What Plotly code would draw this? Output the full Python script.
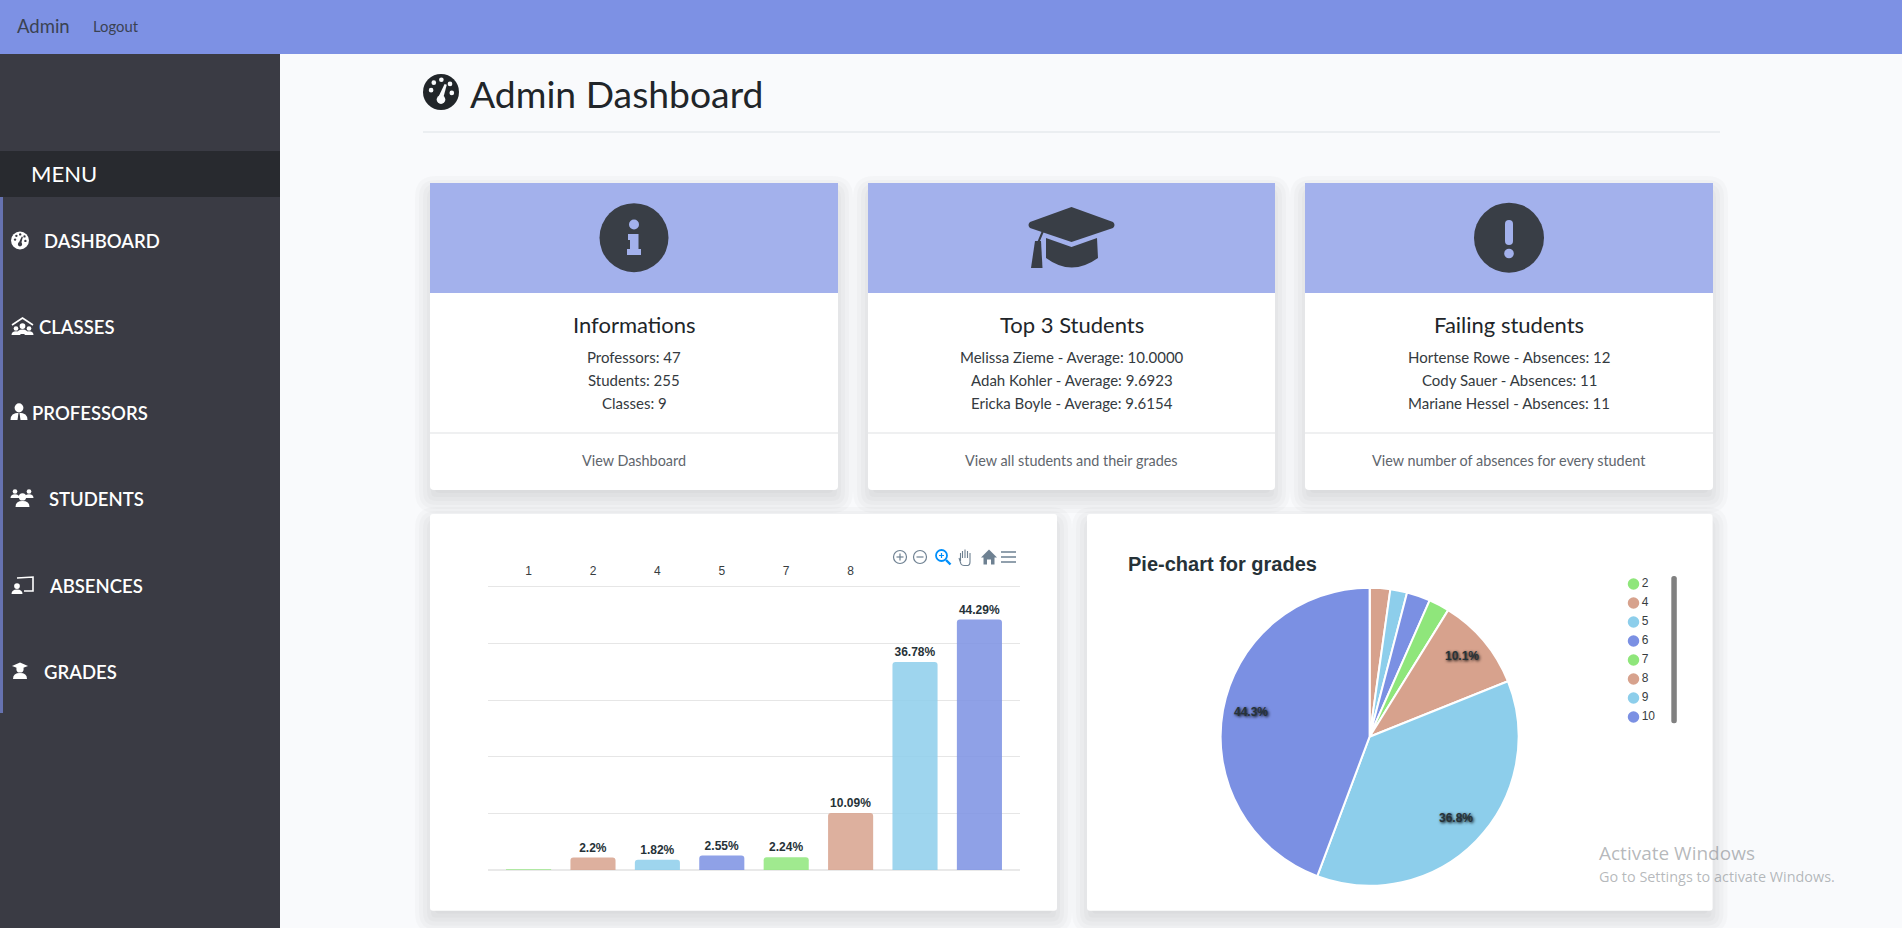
import math
import plotly.graph_objects as go

# ---------- data ----------
bar_categories = ["1", "2", "4", "5", "7", "8", "9", "10"]
bar_tick_labels = ["1", "2", "4", "5", "7", "8", "", ""]
grade_values = [0.03, 2.2, 1.82, 2.55, 2.24, 10.09, 36.78, 44.29]
bar_label_flags = [False, True, True, True, True, True, True, True]
legend_labels = ["2", "4", "5", "6", "7", "8", "9", "10"]
series_colors = ["#8FE67B", "#D7A28D", "#8DCEEB", "#7B90E3", "#8FE67B", "#D7A28D", "#8DCEEB", "#7B90E3"]
menu_items = ["DASHBOARD", "CLASSES", "PROFESSORS", "STUDENTS", "ABSENCES", "GRADES"]
card_titles = ["Informations", "Top 3 Students", "Failing students"]
card_lines = [
    ["Professors: 47", "Students: 255", "Classes: 9"],
    ["Melissa Zieme - Average: 10.0000", "Adah Kohler - Average: 9.6923", "Ericka Boyle - Average: 9.6154"],
    ["Hortense Rowe - Absences: 12", "Cody Sauer - Absences: 11", "Mariane Hessel - Absences: 11"],
]
card_footers = ["View Dashboard", "View all students and their grades", "View number of absences for every student"]

W, H = 1902, 928
UI = "Lato"
ARIAL = "Liberation Sans"
HEAD = "#A3B1EC"
DARK = "#393E46"
SIDE = "#3A3B44"
shapes, notes = [], []


def rect(x0, y0, x1, y1, color):
    shapes.append(dict(type="rect", x0=x0, y0=y0, x1=x1, y1=y1, fillcolor=color, line_width=0, layer="below"))


def rrect(x0, y0, x1, y1, r, color):
    shapes.append(dict(type="path", fillcolor=color, line_width=0, layer="below", path=(
        f"M {x0+r} {y0} L {x1-r} {y0} Q {x1} {y0} {x1} {y0+r} L {x1} {y1-r} Q {x1} {y1} {x1-r} {y1} "
        f"L {x0+r} {y1} Q {x0} {y1} {x0} {y1-r} L {x0} {y0+r} Q {x0} {y0} {x0+r} {y0} Z")))


def circ(cx, cy, r, color):
    shapes.append(dict(type="circle", x0=cx-r, x1=cx+r, y0=cy-r, y1=cy+r, fillcolor=color, line_width=0, layer="below"))


def poly(path, color):
    shapes.append(dict(type="path", path=path, fillcolor=color, line_width=0, layer="below"))


def stroke(path, color, w):
    shapes.append(dict(type="path", path=path, line=dict(color=color, width=w), layer="below"))


def text(x, y, s, size, color, anchor="left", family=UI, weight=None, shadow=None):
    f = dict(family=family, size=size, color=color)
    if weight:
        f["weight"] = weight
    if shadow:
        f["shadow"] = shadow
    notes.append(dict(x=x-2.5 if anchor == "left" else x, y=y-1, xref="x", yref="y", text=s, showarrow=False,
                      xanchor=anchor, yanchor="middle", font=f, align=anchor))


def box_shadow(x0, y0, x1, y1):
    for e in [15, 11, 7, 3, -1, -5, -9, -13]:
        rrect(x0-e, y0-e+8, x1+e, y1+e+8, max(4, e+6), "rgba(0,0,0,0.018)")


def gauge(cx, cy, r, fg, bg):
    circ(cx, cy, r, fg)
    for dx, dy in [(-0.55, -0.1), (-0.4, -0.52), (0.02, -0.68), (0.5, -0.45), (0.6, 0.05)]:
        circ(cx+dx*r, cy+dy*r, 0.13*r, bg)
    poly(f"M {cx+0.2*r} {cy-0.45*r} L {cx+0.32*r} {cy-0.4*r} L {cx+0.14*r} {cy+0.28*r} "
         f"L {cx-0.12*r} {cy+0.22*r} Z", bg)
    circ(cx, cy+0.42*r, 0.24*r, bg)


def person(cx, top, s, color):
    circ(cx, top+0.28*s, 0.26*s, color)
    poly(f"M {cx-0.5*s} {top+s} Q {cx-0.5*s} {top+0.58*s} {cx} {top+0.58*s} "
         f"Q {cx+0.5*s} {top+0.58*s} {cx+0.5*s} {top+s} Z", color)


# ---------- page ----------
rect(0, 0, W, H, "#F9FAFC")
rect(0, 0, W, 54, "#7D91E4")
rect(0, 54, 280, H, SIDE)
rect(0, 151, 280, 197, "#282A2F")
rect(0, 197, 3, 713, "#6672B0")
text(17, 26.5, "Admin", 18.5, "#3A4252")
text(93, 26.5, "Logout", 14.8, "#3A4252")
text(31, 174, "MENU", 22, "#FFFFFF")
menu_x = [44, 39, 32, 49, 49, 44]
menu_y = [241.7, 328, 414, 499.5, 587, 672.5]
for s, x, y in zip(menu_items, menu_x, menu_y):
    text(x, y, s, 18.5, "#FFFFFF", weight=600)

# sidebar icons
gauge(20, 240.5, 9, "#FFFFFF", SIDE)
stroke("M 12 325 L 22.5 318 L 33 325", "#FFFFFF", 1.6)
person(16, 326, 9, "#FFFFFF"); person(22.5, 323, 11, "#FFFFFF"); person(29, 326, 9, "#FFFFFF")
person(19, 403, 17, "#FFFFFF")
poly("M 18.5 413 L 19.5 413 L 20.5 420 L 17.5 420 Z", SIDE)
person(15, 489, 9, "#FFFFFF"); person(29, 489, 9, "#FFFFFF"); person(22.5, 493, 14, "#FFFFFF")
stroke("M 17 578 L 33 577 L 33 591 L 24 591", "#FFFFFF", 1.6)
person(17, 583, 11, "#FFFFFF")
person(20, 665, 14, "#FFFFFF")
poly("M 12 666 L 20 662.5 L 28 666 L 20 669 Z", "#FFFFFF")

# title
gauge(441, 92, 18, "#212529", "#F9FAFC")
text(470, 94, "Admin Dashboard", 37.3, "#212529")
rect(423, 131.5, 1720, 132.5, "#DEE2E6")

# cards
card_x = [(430, 838), (868, 1275), (1305, 1713)]
for x0, x1 in card_x:
    box_shadow(x0, 183, x1, 490)
for (x0, x1), title, lines, foot in zip(card_x, card_titles, card_lines, card_footers):
    cx = (x0+x1)/2
    rrect(x0, 183, x1, 490, 4, "#FFFFFF")
    rect(x0, 183, x1, 293, HEAD)
    rect(x0, 432.5, x1, 433.5, "#DFE1E4")
    text(cx, 325, title, 22, "#212529", "center")
    for y, s in zip([358.3, 381.3, 404.3], lines):
        text(cx, y, s, 15, "#343A40", "center")
    text(cx, 461.6, foot, 14.4, "#5F666D", "center")

# card icons
circ(634, 237.7, 34.5, DARK)
circ(634, 224.5, 5, HEAD)
poly("M 628 234 L 638.5 234 L 638.5 249 L 641 249 L 641 255 L 627 255 L 627 249 L 630 249 L 630 240 L 628 240 Z", HEAD)
poly("M 1071.5 207 L 1113 222 Q 1116 225 1113 228 L 1071.5 242 L 1030 228 Q 1027 225 1030 222 Z", DARK)
poly("M 1046 238 L 1071.5 247 L 1097 238 L 1098 258 Q 1071.5 277 1046 258 Z", DARK)
stroke("M 1043 231 L 1038 243", DARK, 2)
poly("M 1035 241 L 1041 241 L 1042.5 268 L 1031 268 Z", DARK)
circ(1509, 237.7, 35, DARK)
rrect(1505, 220, 1513, 245, 4, HEAD)
circ(1509, 253.5, 4.8, HEAD)

# chart cards
for x0, x1 in [(430, 1057), (1087, 1712.6)]:
    box_shadow(x0, 514, x1, 910.7)
for x0, x1 in [(430, 1057), (1087, 1712.6)]:
    rrect(x0, 514, x1, 910.7, 3, "#FFFFFF")

# chart toolbar
TOOL = "#6E8192"
for cx in (900, 920):
    shapes.append(dict(type="circle", x0=cx-6.5, x1=cx+6.5, y0=550.5, y1=563.5, line=dict(color=TOOL, width=1.2), layer="below"))
    stroke(f"M {cx-3.5} 557 L {cx+3.5} 557", TOOL, 1.2)
stroke("M 900 553.5 L 900 560.5", TOOL, 1.2)
BLUE = "#008FFB"
shapes.append(dict(type="circle", x0=936, x1=947, y0=550, y1=561, line=dict(color=BLUE, width=1.8), layer="below"))
stroke("M 946 560 L 950.5 564.5", BLUE, 2.4)
stroke("M 939 555.5 L 944 555.5 M 941.5 553 L 941.5 558", BLUE, 1.2)
stroke("M 959 558 L 961 564 Q 962 565.5 964 565.5 L 968 565.5 Q 970 565 970 562 L 970 553 M 967.5 558 L 967.5 551 "
       "M 965 558 L 965 549.5 M 962.5 558 L 962.5 551 M 960.5 561 L 960.5 553", TOOL, 1.1)
poly("M 989 549.5 L 997 557.5 L 994.5 557.5 L 994.5 564.5 L 991 564.5 L 991 559.5 L 987 559.5 L 987 564.5 "
     "L 983.5 564.5 L 983.5 557.5 L 981 557.5 Z", TOOL)
stroke("M 1001 552 L 1016 552 M 1001 557 L 1016 557 M 1001 562 L 1016 562", TOOL, 1.6)

# pie legend scrollbar
rrect(1671.3, 576, 1676.8, 723.3, 2.5, "#808080")

# pie title
text(1128.4, 565, "Pie-chart for grades", 20, "#263238", family=ARIAL, weight=700)

# watermark
text(1599, 854, "Activate Windows", 19, "rgba(120,125,130,0.55)", family="Open Sans")
text(1599, 877, "Go to Settings to activate Windows.", 14.4, "rgba(120,125,130,0.55)", family="Open Sans")

# pie percentage labels, placed near the rim at each slice's mid-angle (the pie layer sits below annotations)
PIE_CX, PIE_CY, PIE_R = 1369.6, 736.7, 149
total = sum(grade_values)
running = 0
for v in grade_values:
    mid = (running + v / 2) / total * 2 * math.pi
    running += v
    if v >= 5:
        text(PIE_CX + 0.81 * PIE_R * math.sin(mid), PIE_CY - 0.81 * PIE_R * math.cos(mid) - 2.5, f"{v:.1f}%", 12,
             "#263238", "center", ARIAL, 700, "1px 1px 3px #000000")

# ---------- traces ----------
fig = go.Figure()
fig.add_trace(go.Bar(
    x=bar_categories, y=grade_values, xaxis="x2", yaxis="y2", width=0.7,
    marker=dict(color=series_colors, opacity=0.85, cornerradius=3, line_width=0),
    text=[f"{v:g}%" if show else "" for v, show in zip(grade_values, bar_label_flags)],
    textposition="outside", cliponaxis=False,
    textfont=dict(family=ARIAL, size=12, weight=700, color="#263238"), showlegend=False,
))
fig.add_trace(go.Pie(
    labels=legend_labels, values=grade_values, sort=False, direction="clockwise", rotation=0,
    domain=dict(x=[(PIE_CX-PIE_R)/W, (PIE_CX+PIE_R)/W], y=[(H-PIE_CY-PIE_R)/H, (H-PIE_CY+PIE_R)/H]),
    marker=dict(colors=series_colors, line=dict(color="#FFFFFF", width=2)),
    textinfo="none", showlegend=False,
))
fig.add_trace(go.Scatter(
    x=[0]*len(legend_labels), y=legend_labels, xaxis="x3", yaxis="y3", mode="markers+text",
    marker=dict(color=series_colors, size=11.5), text=legend_labels, textposition="middle right",
    textfont=dict(family=ARIAL, size=12, color="#373D3F"), cliponaxis=False, showlegend=False,
))

hidden = dict(visible=False, fixedrange=True)
fig.update_layout(
    width=W, height=H, margin=dict(l=0, r=0, t=0, b=0), autosize=False,
    paper_bgcolor="#F9FAFC", plot_bgcolor="rgba(0,0,0,0)", showlegend=False, bargap=0.3,
    xaxis=dict(range=[0, W], domain=[0, 1], anchor="y", **hidden),
    yaxis=dict(range=[H, 0], domain=[0, 1], anchor="x", **hidden),
    xaxis2=dict(type="category", categoryorder="array", categoryarray=bar_categories, domain=[488/W, 1020/W],
                range=[-0.63, 7.63], side="top", anchor="y2", tickmode="array", tickvals=bar_categories,
                ticktext=bar_tick_labels, showgrid=False, zeroline=False, showline=True, linecolor="#E6E6E6",
                linewidth=1, ticks="", ticklabelstandoff=7,
                tickfont=dict(family=ARIAL, size=12, color="#373D3F"), fixedrange=True),
    yaxis2=dict(domain=[(H-870)/H, (H-587.3)/H], range=[0, 50], dtick=10, anchor="x2", showticklabels=False,
                gridcolor="#E6E6E6", gridwidth=1, zeroline=True, zerolinecolor="#E9E9E9", zerolinewidth=2,
                showline=False, ticks="", fixedrange=True),
    xaxis3=dict(domain=[1623.5/W, 1643.5/W], range=[-1, 1], anchor="y3", **hidden),
    yaxis3=dict(type="category", categoryorder="array", categoryarray=legend_labels[::-1],
                domain=[(H-726.5)/H, (H-574.5)/H], range=[-0.5, 7.5], anchor="x3", **hidden),
    shapes=shapes, annotations=notes,
)
fig.write_html("out.html", config=dict(displayModeBar=False),
               post_script="document.body.style.margin='0';document.body.style.overflow='hidden';")
